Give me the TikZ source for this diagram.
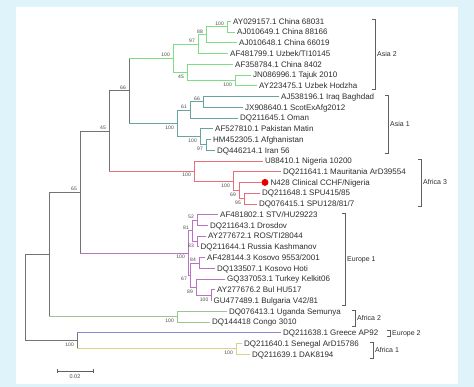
\documentclass[tikz,border=0pt]{standalone}
\usepackage{fontspec}
\setmainfont{Liberation Sans}
\usetikzlibrary{calc}
\definecolor{bgblue}{RGB}{223,243,250}
\definecolor{cAtwo}{RGB}{125,222,135}
\definecolor{cAone}{RGB}{105,165,160}
\definecolor{cAfthree}{RGB}{232,110,122}
\definecolor{cEone}{RGB}{185,115,195}
\definecolor{cAftwo}{RGB}{155,198,145}
\definecolor{cEtwo}{RGB}{135,135,205}
\definecolor{cAfone}{RGB}{218,208,135}
\definecolor{cback}{RGB}{115,115,115}
\definecolor{txtgray}{RGB}{45,45,45}
\definecolor{bsgray}{RGB}{75,75,75}
\definecolor{brkgray}{RGB}{95,95,95}
\newcommand\TreeV[4]{\draw[br,#1] (#2 |- #3) -- (#2 |- #4);}
\newcommand\TreeH[3]{\draw[br,#1] (#2 |- #3) -- (#3);}
\newcommand\LabUp[2]{\node[bs,anchor=south east] (bs#1) at ($(#1)+(-3,-1.2)$) {#2};}
\newcommand\LabDn[2]{\node[bs,anchor=north east] (bs#1) at ($(#1)+(-3,2.2)$) {#2};}
\newcommand\CladeBr[5]{\draw[brk] (#1-3,#2) -- (#1,#2) -- (#1,#3) -- (#1-3,#3);
  \node[clade] (#4) at (#1+2,{(#2+#3)/2}) {#5};}
\begin{document}
\begin{tikzpicture}[x=1pt,y=-1pt,
  leaf/.style={anchor=west,inner xsep=2pt,inner ysep=0pt,text height=5.7pt,text depth=0pt,font=\fontsize{8}{9}\selectfont,text=txtgray},
  bs/.style={inner sep=0pt,text height=3.6pt,text depth=0pt,font=\fontsize{5}{6}\selectfont,text=bsgray},
  clade/.style={anchor=west,inner sep=0pt,text height=5pt,text depth=0pt,font=\fontsize{7}{8}\selectfont,text=txtgray},
  br/.style={line width=0.7pt,line cap=rect},
  brk/.style={draw=brkgray,line width=0.65pt},
  reddot/.style={circle,fill=red!90!black,inner sep=0pt,minimum size=7pt}]
\useasboundingbox (0,0) rectangle (474,387);
\fill[bgblue] (0,0) rectangle (474,387);
\fill[white] (16,7) rectangle (458,384);
% leaves
\node[leaf] (l1) at (231,21.3) {AY029157.1 China 68031};
\node[leaf] (l2) at (235,32.0) {AJ010649.1 China 88166};
\node[leaf] (l3) at (237,42.8) {AJ010648.1 China 66019};
\node[leaf] (l4) at (228,53.5) {AF481799.1 Uzbek/TI10145};
\node[leaf] (l5) at (233,64.3) {AF358784.1 China 8402};
\node[leaf] (l6) at (251,75.0) {JN086996.1 Tajuk 2010};
\node[leaf] (l7) at (257,85.7) {AY223475.1 Uzbek Hodzha};
\node[leaf] (l8) at (279,96.5) {AJ538196.1 Iraq Baghdad};
\node[leaf] (l9) at (243,107.2) {JX908640.1 ScotExAfg2012};
\node[leaf] (l10) at (238,118.0) {DQ211645.1 Oman};
\node[leaf] (l11) at (213,128.7) {AF527810.1 Pakistan Matin};
\node[leaf] (l12) at (211,139.4) {HM452305.1 Afghanistan};
\node[leaf] (l13) at (215,150.2) {DQ446214.1 Iran 56};
\node[leaf] (l14) at (263,160.9) {U88410.1 Nigeria 10200};
\node[leaf] (l15) at (281,171.7) {DQ211641.1 Mauritania ArD39554};
\node[reddot] (dot) at (265,182.4) {};
\node[leaf] (l16) at (268.5,182.4) {N428 Clinical CCHF/Nigeria};
\node[leaf] (l17) at (260,193.1) {DQ211648.1 SPU415/85};
\node[leaf] (l18) at (257,203.9) {DQ076415.1 SPU128/81/7};
\node[leaf] (l19) at (218,214.6) {AF481802.1 STV/HU29223};
\node[leaf] (l20) at (208,225.4) {DQ211643.1 Drosdov};
\node[leaf] (l21) at (206,236.1) {AY277672.1 ROS/TI28044};
\node[leaf] (l22) at (198.5,246.8) {DQ211644.1 Russia Kashmanov};
\node[leaf] (l23) at (205,257.6) {AF428144.3 Kosovo 9553/2001};
\node[leaf] (l24) at (215,268.3) {DQ133507.1 Kosovo Hoti};
\node[leaf] (l25) at (225,279.0) {GQ337053.1 Turkey Kelkit06};
\node[leaf] (l26) at (215,289.8) {AY277676.2 Bul HU517};
\node[leaf] (l27) at (211.5,300.5) {GU477489.1 Bulgaria V42/81};
\node[leaf] (l28) at (227,311.3) {DQ076413.1 Uganda Semunya};
\node[leaf] (l29) at (210,322.0) {DQ144418 Congo 3010};
\node[leaf] (l30) at (281,332.7) {DQ211638.1 Greece AP92};
\node[leaf] (l31) at (242,343.5) {DQ211640.1 Senegal ArD15786};
\node[leaf] (l32) at (250,354.2) {DQ211639.1 DAK8194};
% internal nodes
\coordinate (Na) at (227,26.65);
\coordinate (Nb) at (206,34.7);
\coordinate (Nc) at (198,44.1);
\coordinate (Nd) at (235,80.35);
\coordinate (Ne) at (187,72.3);
\coordinate (Nf) at (173,58.2);
\coordinate (Ng) at (203,101.85);
\coordinate (Nh) at (190,109.9);
\coordinate (Ni) at (206,144.8);
\coordinate (Nj) at (200,136.75);
\coordinate (Nk) at (177,123.3);
\coordinate (Nsix) at (129,90.75);
\coordinate (Tthree) at (244,198.5);
\coordinate (Ttwo) at (239,190.45);
\coordinate (Tone) at (233,181.1);
\coordinate (Azero) at (194,171.0);
\coordinate (Nfour) at (109,130.9);
\coordinate (eP) at (197,220.0);
\coordinate (eQ) at (197,241.45);
\coordinate (eR) at (192,230.7);
\coordinate (eS) at (199,262.95);
\coordinate (eU) at (211.5,295.15);
\coordinate (eV) at (196,287.1);
\coordinate (eW) at (190,275.0);
\coordinate (eZ) at (188,252.9);
\coordinate (Nfive) at (80,191.9);
\coordinate (Aftwo) at (177,316.65);
\coordinate (Nnine) at (49,254.3);
\coordinate (Afone) at (236,348.85);
\coordinate (Gr) at (77,340.8);
\coordinate (Root) at (25,297.5);
% Asia 2
\TreeV{cAtwo}{Na}{l1}{l2} \TreeH{cAtwo}{Na}{l1} \TreeH{cAtwo}{Na}{l2}
\TreeV{cAtwo}{Nb}{Na}{l3} \TreeH{cAtwo}{Nb}{Na} \TreeH{cAtwo}{Nb}{l3}
\TreeV{cAtwo}{Nc}{Nb}{l4} \TreeH{cAtwo}{Nc}{Nb} \TreeH{cAtwo}{Nc}{l4}
\TreeV{cAtwo}{Nd}{l6}{l7} \TreeH{cAtwo}{Nd}{l6} \TreeH{cAtwo}{Nd}{l7}
\TreeV{cAtwo}{Ne}{l5}{Nd} \TreeH{cAtwo}{Ne}{l5} \TreeH{cAtwo}{Ne}{Nd}
\TreeV{cAtwo}{Nf}{Nc}{Ne} \TreeH{cAtwo}{Nf}{Nc} \TreeH{cAtwo}{Nf}{Ne}
% Asia 1
\TreeV{cAone}{Ng}{l8}{l9} \TreeH{cAone}{Ng}{l8} \TreeH{cAone}{Ng}{l9}
\TreeV{cAone}{Nh}{Ng}{l10} \TreeH{cAone}{Nh}{Ng} \TreeH{cAone}{Nh}{l10}
\TreeV{cAone}{Ni}{l12}{l13} \TreeH{cAone}{Ni}{l12} \TreeH{cAone}{Ni}{l13}
\TreeV{cAone}{Nj}{l11}{Ni} \TreeH{cAone}{Nj}{l11} \TreeH{cAone}{Nj}{Ni}
\TreeV{cAone}{Nk}{Nh}{Nj} \TreeH{cAone}{Nk}{Nh} \TreeH{cAone}{Nk}{Nj}
\TreeV{cback}{Nsix}{Nf}{Nk} \TreeH{cAtwo}{Nsix}{Nf} \TreeH{cAone}{Nsix}{Nk}
% Africa 3
\TreeV{cAfthree}{Tthree}{l17}{l18} \TreeH{cAfthree}{Tthree}{l17} \TreeH{cAfthree}{Tthree}{l18}
\TreeV{cAfthree}{Ttwo}{dot}{Tthree} \TreeH{cAfthree}{Ttwo}{dot} \TreeH{cAfthree}{Ttwo}{Tthree}
\TreeV{cAfthree}{Tone}{l15}{Ttwo} \TreeH{cAfthree}{Tone}{l15} \TreeH{cAfthree}{Tone}{Ttwo}
\TreeV{cAfthree}{Azero}{l14}{Tone} \TreeH{cAfthree}{Azero}{l14} \TreeH{cAfthree}{Azero}{Tone}
\TreeV{cback}{Nfour}{Nsix}{Azero} \TreeH{cback}{Nfour}{Nsix} \TreeH{cAfthree}{Nfour}{Azero}
% Europe 1
\TreeV{cEone}{eP}{l19}{l20} \TreeH{cEone}{eP}{l19} \TreeH{cEone}{eP}{l20}
\TreeV{cEone}{eQ}{l21}{l22} \TreeH{cEone}{eQ}{l21} \TreeH{cEone}{eQ}{l22}
\TreeV{cEone}{eR}{eP}{eQ} \TreeH{cEone}{eR}{eP} \TreeH{cEone}{eR}{eQ}
\TreeV{cEone}{eS}{l23}{l24} \TreeH{cEone}{eS}{l23} \TreeH{cEone}{eS}{l24}
\TreeV{cEone}{eU}{l26}{l27} \TreeH{cEone}{eU}{l26} \TreeH{cEone}{eU}{l27}
\TreeV{cEone}{eV}{l25}{eU} \TreeH{cEone}{eV}{l25} \TreeH{cEone}{eV}{eU}
\TreeV{cEone}{eW}{eS}{eV} \TreeH{cEone}{eW}{eS} \TreeH{cEone}{eW}{eV}
\TreeV{cEone}{eZ}{eR}{eW} \TreeH{cEone}{eZ}{eR} \TreeH{cEone}{eZ}{eW}
\TreeV{cback}{Nfive}{Nfour}{eZ} \TreeH{cback}{Nfive}{Nfour} \TreeH{cEone}{Nfive}{eZ}
% Africa 2
\TreeV{cAftwo}{Aftwo}{l28}{l29} \TreeH{cAftwo}{Aftwo}{l28} \TreeH{cAftwo}{Aftwo}{l29}
\TreeV{cback}{Nnine}{Nfive}{Aftwo} \TreeH{cback}{Nnine}{Nfive} \TreeH{cAftwo}{Nnine}{Aftwo}
% Europe 2 / Africa 1
\TreeV{cAfone}{Afone}{l31}{l32} \TreeH{cAfone}{Afone}{l31} \TreeH{cAfone}{Afone}{l32}
\TreeV{cback}{Gr}{l30}{Afone} \TreeH{cEtwo}{Gr}{l30} \TreeH{cAfone}{Gr}{Afone}
\TreeV{cback}{Root}{Nnine}{Gr} \TreeH{cback}{Root}{Nnine} \TreeH{cback}{Root}{Gr}
% bootstrap values
\LabUp{Na}{100} \LabUp{Nb}{88} \LabUp{Nc}{97} \LabUp{Nf}{100}
\LabDn{Ne}{45} \LabDn{Nd}{100} \LabUp{Nsix}{66}
\LabUp{Ng}{66} \LabUp{Nh}{61} \LabDn{Nk}{100} \LabDn{Nj}{100} \LabDn{Ni}{97}
\LabUp{Nfour}{45} \LabDn{Azero}{100} \LabDn{Tone}{100} \LabDn{Ttwo}{69} \LabDn{Tthree}{95}
\LabUp{Nfive}{65}
\LabUp{eP}{52} \LabUp{eR}{81} \LabDn{eQ}{83} \LabDn{eZ}{100} \LabUp{eS}{84}
\LabDn{eW}{67} \LabDn{eV}{89} \LabDn{eU}{100}
\LabDn{Aftwo}{100} \LabDn{Gr}{100} \LabDn{Afone}{100}
% clade brackets
\CladeBr{375}{19}{89}{cAsiaTwo}{Asia 2}
\CladeBr{388}{95}{153}{cAsiaOne}{Asia 1}
\CladeBr{421}{159}{206}{cAfrThree}{Africa 3}
\CladeBr{345}{213}{305}{cEurOne}{Europe 1}
\CladeBr{355}{310}{326}{cAfrTwo}{Africa 2}
\CladeBr{390}{330.5}{336}{cEurTwo}{Europe 2}
\CladeBr{373}{342}{358}{cAfrOne}{Africa 1}
% scale bar
\draw[brk] (57,371) -- (93,371);
\draw[brk] (57,369) -- (57,373);
\draw[brk] (93,369) -- (93,373);
\node[bs,font=\fontsize{5.5}{6}\selectfont] (scale) at (75,377) {0.02};
\end{tikzpicture}
\end{document}
